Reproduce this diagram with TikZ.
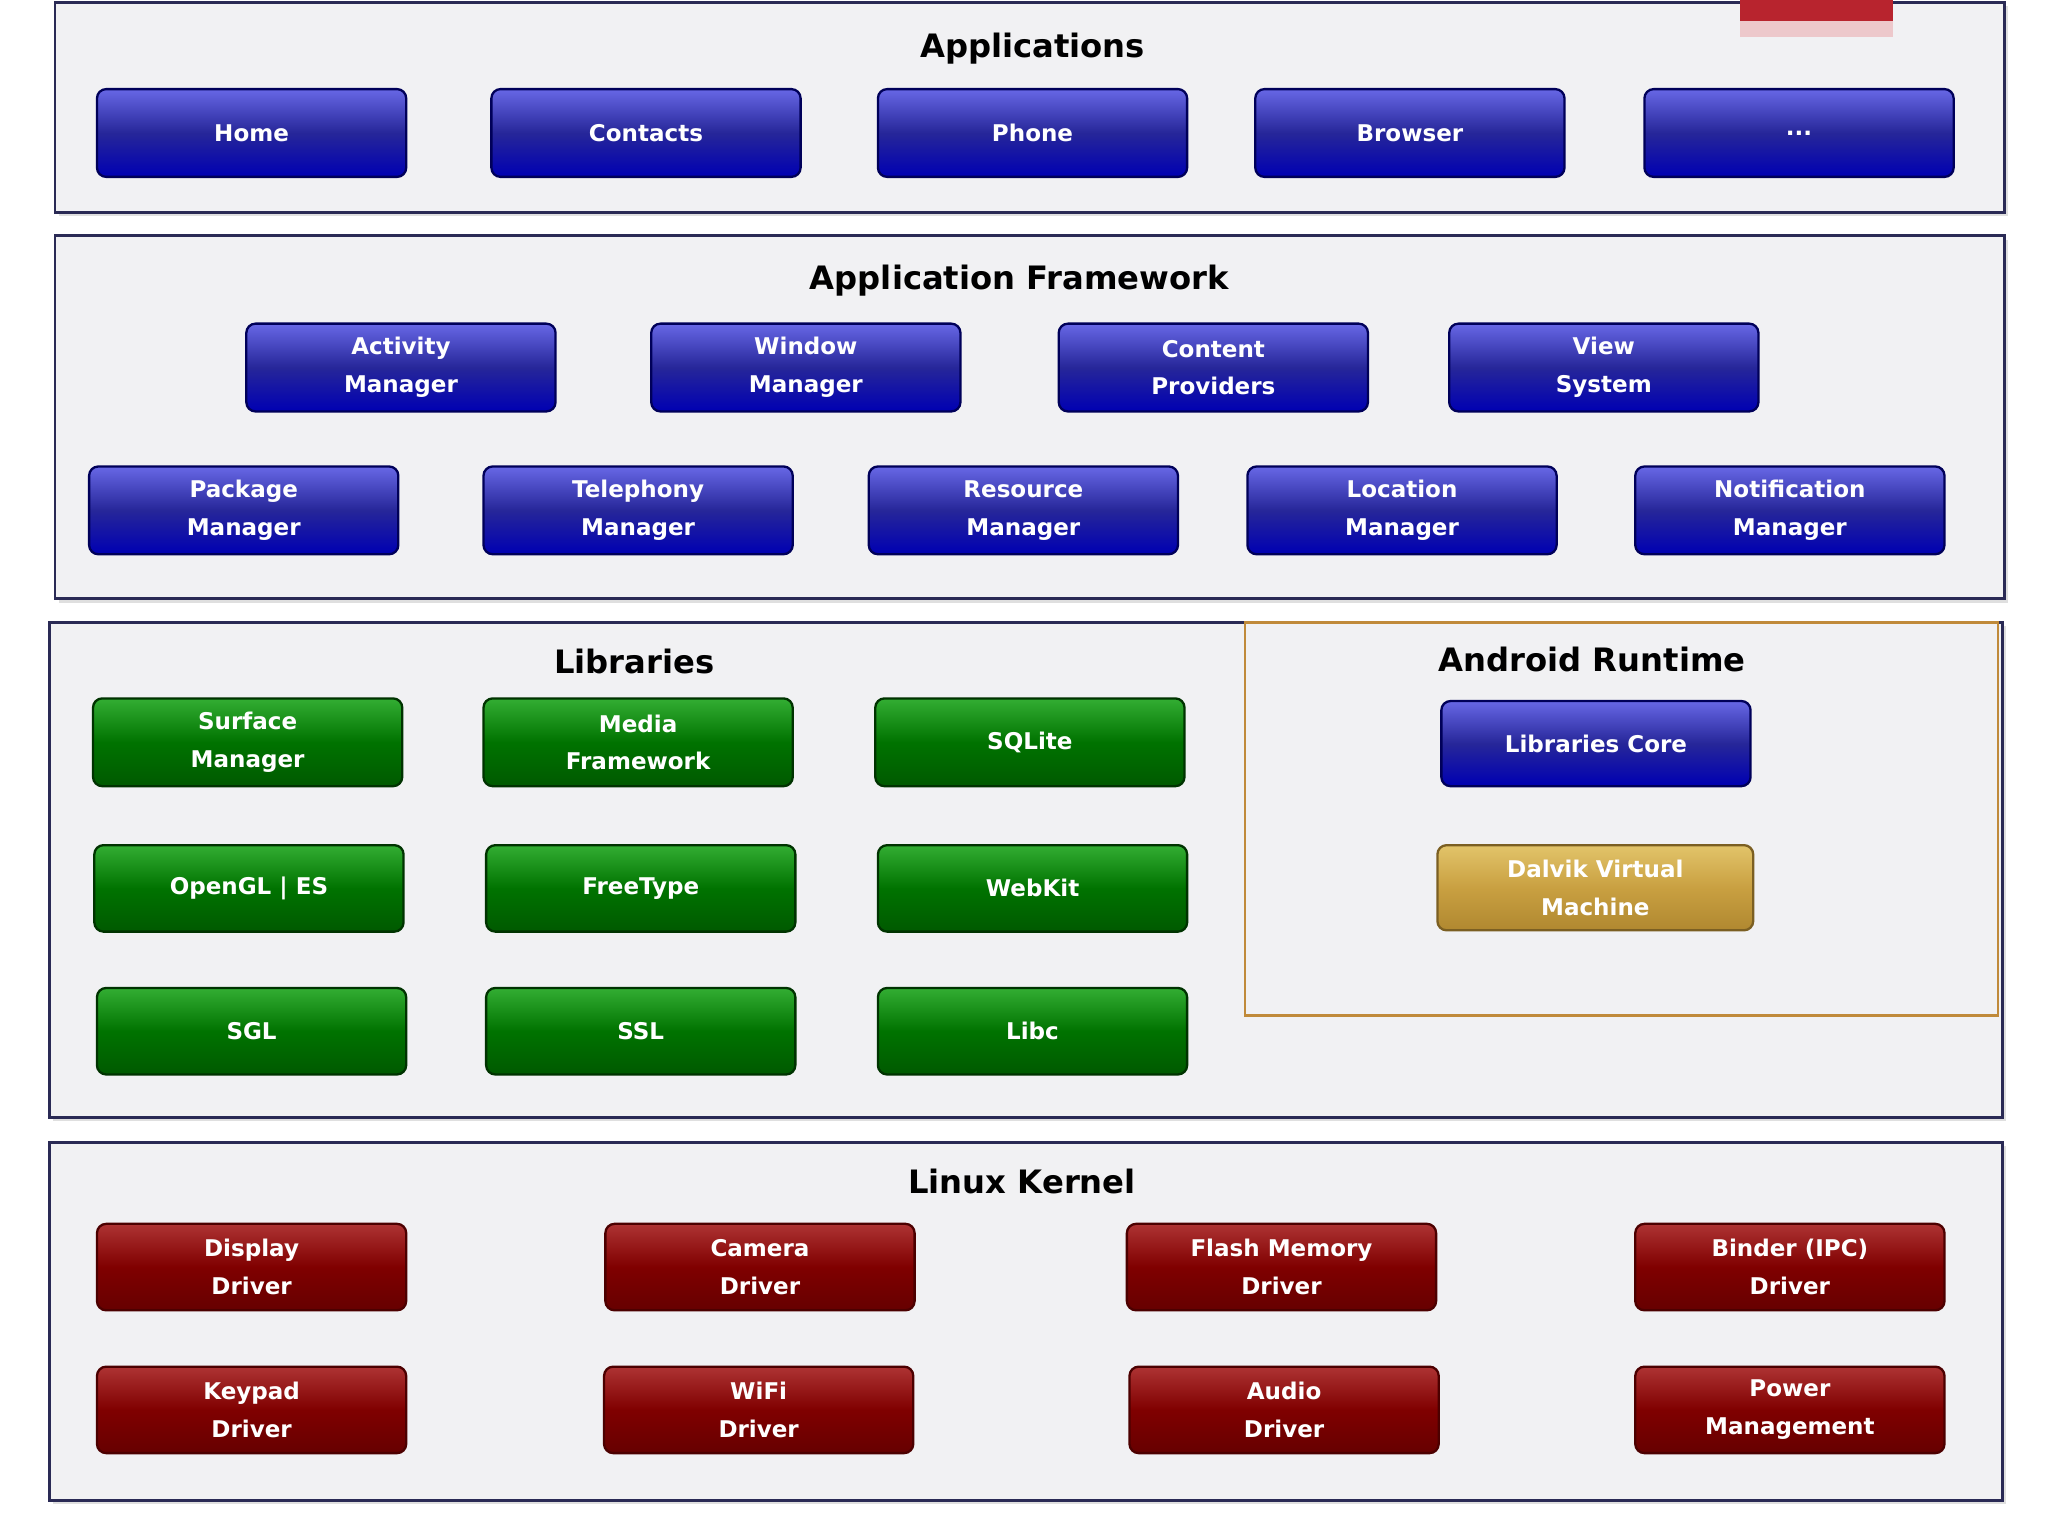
\documentclass[tikz,border=0pt]{standalone}
\usepackage{fontspec}
\setmainfont{DejaVu Sans}
\usetikzlibrary{shadows}
\definecolor{panelbg}{HTML}{F1F1F3}
\definecolor{paneledge}{HTML}{2A2A55}
\definecolor{goldtop}{HTML}{E2C46A}
\definecolor{goldmid}{HTML}{C9A041}
\definecolor{goldbot}{HTML}{B08830}
\definecolor{rtframe}{HTML}{C08A3A}
\definecolor{patch}{HTML}{B8242E}
\tikzset{
 panel/.style={fill=panelbg,draw=paneledge,line width=3pt,drop shadow={opacity=0.25,shadow xshift=4pt,shadow yshift=-4pt}},
 ttl/.style={font=\fontsize{35}{40}\selectfont\bfseries,text=black},
 btn/.style={rounded corners=10pt,line width=2.5pt,align=center,text=white,
   font=\fontsize{25}{41}\selectfont\bfseries,inner sep=0pt},
 blue/.style={btn,draw=blue!35!black,top color=blue!55!white!90!black,bottom color=blue!70!black,middle color=blue!75!white!60!black},
 green/.style={btn,draw=green!20!black,top color=green!60!black!80!white,bottom color=green!35!black,middle color=green!45!black},
 red/.style={btn,draw=red!30!black,top color=red!60!black!80!white,bottom color=red!40!black,middle color=red!50!black},
 gold/.style={btn,draw=goldbot!70!black,top color=goldtop,bottom color=goldbot,middle color=goldmid},
}
\newcommand\bx[7]{\node[#6,minimum width={(#3-#1)*0.05cm},minimum height={(#4-#2)*0.05cm}] (#5) at ({(#1+#3)/2},{(#2+#4)/2}) {#7};}
\begin{document}
\begin{tikzpicture}[x=0.05cm,y=-0.05cm]
\fill[white] (0,0) rectangle (1563,1173);
\useasboundingbox (0,0) rectangle (1563,1173);
% panels
\draw[panel] (42,2) rectangle (1530,162);
\draw[panel] (42,180) rectangle (1530,457);
\draw[panel] (38,475) rectangle (1528,853);
\draw[fill=panelbg,draw=rtframe,line width=2.5pt] (950,475) rectangle (1525,775);
\draw[panel] (38,872) rectangle (1528,1145);
\fill[patch] (1328,0) rectangle (1445,16);
\fill[patch!25!white] (1328,16) rectangle (1445,28);
\node[ttl] (t1) at (788,37) {Applications};
\node[ttl] (t2) at (778,214) {Application Framework};
\node[ttl] (t3) at (484,505) {Libraries};
\node[ttl] (t4) at (1215,503) {Android Runtime};
\node[ttl] (t5) at (780,902) {Linux Kernel};
% applications
\bx{74}{68}{310}{135}{home}{blue}{Home}
\bx{375}{68}{611}{135}{contacts}{blue}{Contacts}
\bx{670}{68}{906}{135}{phone}{blue}{Phone}
\bx{958}{68}{1194}{135}{browser}{blue}{Browser}
\bx{1255}{68}{1491}{135}{more}{blue}{...}
% framework
\bx{188}{247}{424}{314}{am}{blue}{Activity\\Manager}
\bx{497}{247}{733}{314}{wm}{blue}{Window\\Manager}
\bx{808}{247}{1044}{314}{cp}{blue}{Content\\Providers}
\bx{1106}{247}{1342}{314}{vs}{blue}{View\\System}
\bx{68}{356}{304}{423}{pm}{blue}{Package\\Manager}
\bx{369}{356}{605}{423}{tm}{blue}{Telephony\\Manager}
\bx{663}{356}{899}{423}{rm}{blue}{Resource\\Manager}
\bx{952}{356}{1188}{423}{lm}{blue}{Location\\Manager}
\bx{1248}{356}{1484}{423}{nm}{blue}{Notification\\Manager}
% libraries
\bx{71}{533}{307}{600}{sm}{green}{Surface\\Manager}
\bx{369}{533}{605}{600}{mf}{green}{Media\\Framework}
\bx{668}{533}{904}{600}{sq}{green}{SQLite}
\bx{72}{645}{308}{711}{gl}{green}{OpenGL | ES}
\bx{371}{645}{607}{711}{ft}{green}{FreeType}
\bx{670}{645}{906}{711}{wk}{green}{WebKit}
\bx{74}{754}{310}{820}{sgl}{green}{SGL}
\bx{371}{754}{607}{820}{ssl}{green}{SSL}
\bx{670}{754}{906}{820}{libc}{green}{Libc}
% runtime
\bx{1100}{535}{1336}{600}{lc}{blue}{Libraries Core}
\bx{1097}{645}{1338}{710}{dvm}{gold}{Dalvik Virtual\\Machine}
% kernel
\bx{74}{934}{310}{1000}{dd}{red}{Display\\Driver}
\bx{462}{934}{698}{1000}{cd}{red}{Camera\\Driver}
\bx{860}{934}{1096}{1000}{fd}{red}{Flash Memory\\Driver}
\bx{1248}{934}{1484}{1000}{bd}{red}{Binder (IPC)\\Driver}
\bx{74}{1043}{310}{1109}{kd}{red}{Keypad\\Driver}
\bx{461}{1043}{697}{1109}{wd}{red}{WiFi\\Driver}
\bx{862}{1043}{1098}{1109}{ad}{red}{Audio\\Driver}
\bx{1248}{1043}{1484}{1109}{pw}{red}{Power\\Management}
\end{tikzpicture}
\end{document}
